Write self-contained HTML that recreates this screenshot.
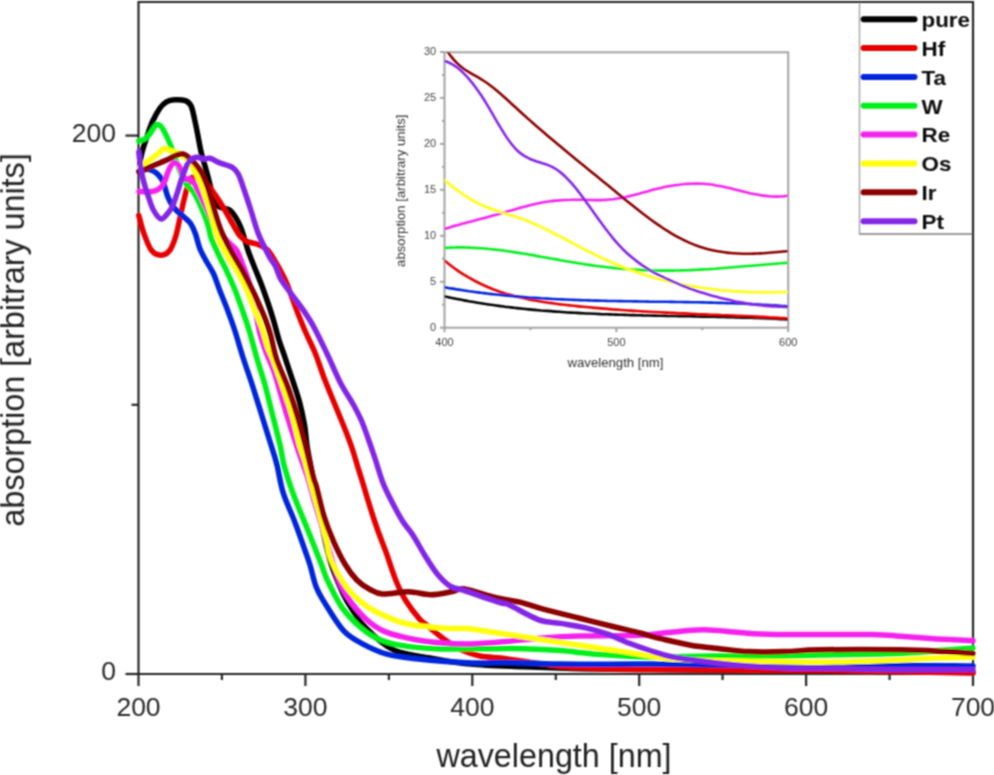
<!DOCTYPE html>
<html><head><meta charset="utf-8"><style>
html,body{margin:0;padding:0;background:#fff;}
body{width:994px;height:775px;overflow:hidden;position:relative;}
svg{position:absolute;left:0;top:0;}
text{font-family:"Liberation Sans",sans-serif;}
</style></head><body>
<svg width="994" height="775" viewBox="0 0 994 775">
<defs><filter id="soft" x="-5%" y="-5%" width="110%" height="110%"><feConvolveMatrix order="3" kernelMatrix="1 2 1 2 4 2 1 2 1" edgeMode="duplicate" preserveAlpha="false"/></filter></defs>
<rect width="994" height="775" fill="#fff"/>
<g filter="url(#soft)">
<!-- legend box -->
<line x1="859.5" y1="3" x2="859.5" y2="234" stroke="#a8a8a8" stroke-width="1.5"/>
<line x1="859" y1="234" x2="973" y2="234" stroke="#9c9c9c" stroke-width="2"/>
<g font-family="Liberation Sans" font-weight="bold" font-size="21" fill="#0a0a0a">
<line x1="863.5" y1="19.2" x2="914.5" y2="19.2" stroke="#060606" stroke-width="6" stroke-linecap="round"/>
<text transform="translate(921.5,27.0) scale(1.066,1)">pure</text>
<line x1="863.5" y1="48.0" x2="914.5" y2="48.0" stroke="#e60500" stroke-width="6" stroke-linecap="round"/>
<text transform="translate(921.5,55.8) scale(1.066,1)">Hf</text>
<line x1="863.5" y1="76.9" x2="914.5" y2="76.9" stroke="#0028dc" stroke-width="6" stroke-linecap="round"/>
<text transform="translate(921.5,84.7) scale(1.066,1)">Ta</text>
<line x1="863.5" y1="105.8" x2="914.5" y2="105.8" stroke="#00f01e" stroke-width="6" stroke-linecap="round"/>
<text transform="translate(921.5,113.6) scale(1.066,1)">W</text>
<line x1="863.5" y1="134.6" x2="914.5" y2="134.6" stroke="#f523ee" stroke-width="6" stroke-linecap="round"/>
<text transform="translate(921.5,142.4) scale(1.066,1)">Re</text>
<line x1="863.5" y1="163.4" x2="914.5" y2="163.4" stroke="#ffff0a" stroke-width="6" stroke-linecap="round"/>
<text transform="translate(921.5,171.2) scale(1.066,1)">Os</text>
<line x1="863.5" y1="192.3" x2="914.5" y2="192.3" stroke="#8c0000" stroke-width="6" stroke-linecap="round"/>
<text transform="translate(921.5,200.1) scale(1.066,1)">Ir</text>
<line x1="863.5" y1="221.2" x2="914.5" y2="221.2" stroke="#8428e6" stroke-width="6" stroke-linecap="round"/>
<text transform="translate(921.5,229.0) scale(1.066,1)">Pt</text>
</g>
<!-- inset frame -->
<g stroke="#a4a4a4" stroke-width="2" fill="none">
<rect x="444.5" y="52.3" width="343.7" height="275.4"/>
<line x1="444.5" y1="327.7" x2="444.5" y2="332.2"/>
<line x1="530.4" y1="327.7" x2="530.4" y2="330.2"/>
<line x1="616.4" y1="327.7" x2="616.4" y2="332.2"/>
<line x1="702.3" y1="327.7" x2="702.3" y2="330.2"/>
<line x1="788.2" y1="327.7" x2="788.2" y2="332.2"/>
<line x1="444.5" y1="327.7" x2="440.0" y2="327.7"/>
<line x1="444.5" y1="304.7" x2="442.0" y2="304.7"/>
<line x1="444.5" y1="281.8" x2="440.0" y2="281.8"/>
<line x1="444.5" y1="258.8" x2="442.0" y2="258.8"/>
<line x1="444.5" y1="235.8" x2="440.0" y2="235.8"/>
<line x1="444.5" y1="212.8" x2="442.0" y2="212.8"/>
<line x1="444.5" y1="189.8" x2="440.0" y2="189.8"/>
<line x1="444.5" y1="166.9" x2="442.0" y2="166.9"/>
<line x1="444.5" y1="143.9" x2="440.0" y2="143.9"/>
<line x1="444.5" y1="120.9" x2="442.0" y2="120.9"/>
<line x1="444.5" y1="97.9" x2="440.0" y2="97.9"/>
<line x1="444.5" y1="75.0" x2="442.0" y2="75.0"/>
<line x1="444.5" y1="52.0" x2="440.0" y2="52.0"/>
</g>
<g font-family="Liberation Sans" font-size="11" fill="#444" text-anchor="end">
<text x="436.2" y="330.9">0</text>
<text x="436.2" y="284.9">5</text>
<text x="436.2" y="239.0">10</text>
<text x="436.2" y="193.0">15</text>
<text x="436.2" y="147.1">20</text>
<text x="436.2" y="101.1">25</text>
<text x="436.2" y="55.2">30</text>
</g>
<g font-family="Liberation Sans" font-size="11" fill="#444" text-anchor="middle">
<text x="444.5" y="346">400</text>
<text x="616.4" y="346">500</text>
<text x="788.2" y="346">600</text>
<text x="615.5" y="367" font-size="13.2" fill="#333">wavelength [nm]</text>
<text transform="translate(404.5,190.7) rotate(-90)" font-size="13.2" fill="#333">absorption [arbitrary units]</text>
</g>
<defs><clipPath id="ic"><rect x="444.5" y="52.3" width="343.7" height="275.4"/></clipPath></defs>
<g fill="none" stroke-width="2.6" stroke-linecap="round" stroke-linejoin="round" clip-path="url(#ic)">
<path d="M445.0,296.4 C446.0,296.6 449.0,297.2 451.0,297.7 C453.0,298.1 455.0,298.5 457.0,298.9 C459.0,299.3 461.0,299.7 463.0,300.1 C465.0,300.4 467.0,300.8 469.0,301.2 C471.0,301.5 473.0,301.9 475.0,302.2 C477.0,302.6 479.0,302.9 481.0,303.2 C483.0,303.5 485.0,303.9 487.0,304.2 C489.0,304.5 491.0,304.8 493.0,305.0 C495.0,305.3 497.0,305.6 499.0,305.9 C501.0,306.2 503.0,306.4 505.0,306.7 C507.0,306.9 509.0,307.2 511.0,307.4 C513.0,307.6 515.0,307.9 517.0,308.1 C519.0,308.3 521.0,308.5 523.0,308.7 C525.0,309.0 527.0,309.2 529.0,309.4 C531.0,309.6 533.0,309.7 535.0,309.9 C537.0,310.1 539.0,310.3 541.0,310.5 C543.0,310.6 545.0,310.8 547.0,310.9 C549.0,311.1 551.0,311.3 553.0,311.4 C555.0,311.6 557.0,311.7 559.0,311.8 C561.0,312.0 563.0,312.1 565.0,312.2 C567.0,312.4 569.0,312.5 571.0,312.6 C573.0,312.7 575.0,312.8 577.0,312.9 C579.0,313.0 581.0,313.2 583.0,313.3 C585.0,313.4 587.0,313.5 589.0,313.5 C591.0,313.6 593.0,313.7 595.0,313.8 C597.0,313.9 599.0,314.0 601.0,314.1 C603.0,314.1 605.0,314.2 607.0,314.3 C609.0,314.4 611.0,314.4 613.0,314.5 C615.0,314.6 617.0,314.6 619.0,314.7 C621.0,314.8 623.0,314.8 625.0,314.9 C627.0,315.0 629.0,315.0 631.0,315.1 C633.0,315.1 635.0,315.2 637.0,315.2 C639.0,315.3 641.0,315.3 643.0,315.4 C645.0,315.4 647.0,315.5 649.0,315.5 C651.0,315.6 653.0,315.6 655.0,315.6 C657.0,315.7 659.0,315.7 661.0,315.8 C663.0,315.8 665.0,315.8 667.0,315.9 C669.0,315.9 671.0,316.0 673.0,316.0 C675.0,316.0 677.0,316.1 679.0,316.1 C681.0,316.2 683.0,316.2 685.0,316.2 C687.0,316.3 689.0,316.3 691.0,316.3 C693.0,316.4 695.0,316.4 697.0,316.5 C699.0,316.5 701.0,316.5 703.0,316.6 C705.0,316.6 707.0,316.7 709.0,316.7 C711.0,316.7 713.0,316.8 715.0,316.8 C717.0,316.9 719.0,316.9 721.0,317.0 C723.0,317.0 725.0,317.1 727.0,317.1 C729.0,317.2 731.0,317.2 733.0,317.3 C735.0,317.3 737.0,317.4 739.0,317.4 C741.0,317.5 743.0,317.6 745.0,317.6 C747.0,317.7 749.0,317.7 751.0,317.8 C753.0,317.9 755.0,318.0 757.0,318.0 C759.0,318.1 761.0,318.2 763.0,318.3 C765.0,318.3 767.0,318.4 769.0,318.5 C771.0,318.6 773.0,318.7 775.0,318.8 C777.0,318.9 779.0,319.0 781.0,319.1 C783.0,319.2 786.0,319.3 787.0,319.4" stroke="#060606"/>
<path d="M445.0,261.1 C446.0,261.9 449.0,264.3 451.0,265.8 C453.0,267.3 455.0,268.8 457.0,270.1 C459.0,271.5 461.0,272.8 463.0,274.1 C465.0,275.3 467.0,276.5 469.0,277.7 C471.0,278.8 473.0,279.9 475.0,281.0 C477.0,282.0 479.0,283.0 481.0,284.0 C483.0,284.9 485.0,285.8 487.0,286.7 C489.0,287.6 491.0,288.4 493.0,289.2 C495.0,289.9 497.0,290.7 499.0,291.4 C501.0,292.1 503.0,292.7 505.0,293.4 C507.0,294.0 509.0,294.6 511.0,295.1 C513.0,295.7 515.0,296.2 517.0,296.7 C519.0,297.2 521.0,297.7 523.0,298.1 C525.0,298.6 527.0,299.0 529.0,299.4 C531.0,299.8 533.0,300.2 535.0,300.5 C537.0,300.9 539.0,301.2 541.0,301.5 C543.0,301.9 545.0,302.2 547.0,302.5 C549.0,302.8 551.0,303.0 553.0,303.3 C555.0,303.6 557.0,303.8 559.0,304.1 C561.0,304.3 563.0,304.6 565.0,304.8 C567.0,305.0 569.0,305.3 571.0,305.5 C573.0,305.7 575.0,305.9 577.0,306.1 C579.0,306.4 581.0,306.6 583.0,306.8 C585.0,307.0 587.0,307.2 589.0,307.3 C591.0,307.5 593.0,307.7 595.0,307.9 C597.0,308.1 599.0,308.3 601.0,308.4 C603.0,308.6 605.0,308.8 607.0,308.9 C609.0,309.1 611.0,309.2 613.0,309.4 C615.0,309.5 617.0,309.7 619.0,309.8 C621.0,310.0 623.0,310.1 625.0,310.2 C627.0,310.4 629.0,310.5 631.0,310.6 C633.0,310.8 635.0,310.9 637.0,311.0 C639.0,311.1 641.0,311.2 643.0,311.4 C645.0,311.5 647.0,311.6 649.0,311.7 C651.0,311.8 653.0,311.9 655.0,312.0 C657.0,312.1 659.0,312.2 661.0,312.3 C663.0,312.4 665.0,312.5 667.0,312.6 C669.0,312.7 671.0,312.8 673.0,312.9 C675.0,313.0 677.0,313.1 679.0,313.2 C681.0,313.3 683.0,313.4 685.0,313.4 C687.0,313.5 689.0,313.6 691.0,313.7 C693.0,313.8 695.0,313.9 697.0,314.0 C699.0,314.0 701.0,314.1 703.0,314.2 C705.0,314.3 707.0,314.4 709.0,314.5 C711.0,314.5 713.0,314.6 715.0,314.7 C717.0,314.8 719.0,314.9 721.0,315.0 C723.0,315.0 725.0,315.1 727.0,315.2 C729.0,315.3 731.0,315.4 733.0,315.5 C735.0,315.6 737.0,315.7 739.0,315.7 C741.0,315.8 743.0,315.9 745.0,316.0 C747.0,316.1 749.0,316.2 751.0,316.3 C753.0,316.4 755.0,316.5 757.0,316.6 C759.0,316.7 761.0,316.8 763.0,316.9 C765.0,317.0 767.0,317.1 769.0,317.3 C771.0,317.4 773.0,317.5 775.0,317.6 C777.0,317.7 779.0,317.8 781.0,318.0 C783.0,318.1 786.0,318.3 787.0,318.3" stroke="#e60500"/>
<path d="M445.0,287.3 C446.0,287.5 449.0,288.0 451.0,288.4 C453.0,288.7 455.0,289.0 457.0,289.4 C459.0,289.7 461.0,290.0 463.0,290.3 C465.0,290.6 467.0,290.9 469.0,291.2 C471.0,291.4 473.0,291.7 475.0,292.0 C477.0,292.3 479.0,292.5 481.0,292.8 C483.0,293.0 485.0,293.3 487.0,293.5 C489.0,293.7 491.0,294.0 493.0,294.2 C495.0,294.4 497.0,294.6 499.0,294.8 C501.0,295.0 503.0,295.2 505.0,295.4 C507.0,295.6 509.0,295.8 511.0,296.0 C513.0,296.2 515.0,296.4 517.0,296.5 C519.0,296.7 521.0,296.9 523.0,297.0 C525.0,297.2 527.0,297.3 529.0,297.5 C531.0,297.6 533.0,297.8 535.0,297.9 C537.0,298.0 539.0,298.1 541.0,298.3 C543.0,298.4 545.0,298.5 547.0,298.6 C549.0,298.7 551.0,298.9 553.0,299.0 C555.0,299.1 557.0,299.2 559.0,299.3 C561.0,299.4 563.0,299.4 565.0,299.5 C567.0,299.6 569.0,299.7 571.0,299.8 C573.0,299.9 575.0,299.9 577.0,300.0 C579.0,300.1 581.0,300.1 583.0,300.2 C585.0,300.3 587.0,300.3 589.0,300.4 C591.0,300.5 593.0,300.5 595.0,300.6 C597.0,300.6 599.0,300.7 601.0,300.7 C603.0,300.8 605.0,300.8 607.0,300.9 C609.0,300.9 611.0,301.0 613.0,301.0 C615.0,301.0 617.0,301.1 619.0,301.1 C621.0,301.1 623.0,301.2 625.0,301.2 C627.0,301.2 629.0,301.3 631.0,301.3 C633.0,301.3 635.0,301.4 637.0,301.4 C639.0,301.4 641.0,301.5 643.0,301.5 C645.0,301.5 647.0,301.5 649.0,301.6 C651.0,301.6 653.0,301.6 655.0,301.7 C657.0,301.7 659.0,301.7 661.0,301.7 C663.0,301.8 665.0,301.8 667.0,301.8 C669.0,301.8 671.0,301.9 673.0,301.9 C675.0,301.9 677.0,302.0 679.0,302.0 C681.0,302.0 683.0,302.1 685.0,302.1 C687.0,302.1 689.0,302.2 691.0,302.2 C693.0,302.2 695.0,302.3 697.0,302.3 C699.0,302.4 701.0,302.4 703.0,302.4 C705.0,302.5 707.0,302.5 709.0,302.6 C711.0,302.6 713.0,302.7 715.0,302.7 C717.0,302.8 719.0,302.9 721.0,302.9 C723.0,303.0 725.0,303.0 727.0,303.1 C729.0,303.2 731.0,303.2 733.0,303.3 C735.0,303.4 737.0,303.5 739.0,303.5 C741.0,303.6 743.0,303.7 745.0,303.8 C747.0,303.9 749.0,304.0 751.0,304.1 C753.0,304.2 755.0,304.3 757.0,304.4 C759.0,304.5 761.0,304.6 763.0,304.7 C765.0,304.8 767.0,304.9 769.0,305.0 C771.0,305.2 773.0,305.3 775.0,305.4 C777.0,305.6 779.0,305.7 781.0,305.9 C783.0,306.0 786.0,306.2 787.0,306.3" stroke="#0028dc"/>
<path d="M445.0,247.9 C446.0,247.9 449.0,247.7 451.0,247.6 C453.0,247.5 455.0,247.5 457.0,247.4 C459.0,247.4 461.0,247.4 463.0,247.4 C465.0,247.5 467.0,247.5 469.0,247.6 C471.0,247.7 473.0,247.7 475.0,247.9 C477.0,248.0 479.0,248.1 481.0,248.2 C483.0,248.4 485.0,248.6 487.0,248.7 C489.0,248.9 491.0,249.1 493.0,249.4 C495.0,249.6 497.0,249.8 499.0,250.0 C501.0,250.3 503.0,250.6 505.0,250.8 C507.0,251.1 509.0,251.4 511.0,251.7 C513.0,252.0 515.0,252.3 517.0,252.6 C519.0,252.9 521.0,253.2 523.0,253.5 C525.0,253.9 527.0,254.2 529.0,254.6 C531.0,254.9 533.0,255.2 535.0,255.6 C537.0,255.9 539.0,256.3 541.0,256.7 C543.0,257.0 545.0,257.4 547.0,257.7 C549.0,258.1 551.0,258.5 553.0,258.8 C555.0,259.2 557.0,259.5 559.0,259.9 C561.0,260.3 563.0,260.6 565.0,261.0 C567.0,261.3 569.0,261.7 571.0,262.0 C573.0,262.3 575.0,262.7 577.0,263.0 C579.0,263.3 581.0,263.7 583.0,264.0 C585.0,264.3 587.0,264.6 589.0,264.9 C591.0,265.2 593.0,265.5 595.0,265.7 C597.0,266.0 599.0,266.3 601.0,266.5 C603.0,266.8 605.0,267.0 607.0,267.2 C609.0,267.5 611.0,267.7 613.0,267.9 C615.0,268.1 617.0,268.3 619.0,268.5 C621.0,268.6 623.0,268.8 625.0,269.0 C627.0,269.1 629.0,269.3 631.0,269.4 C633.0,269.6 635.0,269.7 637.0,269.8 C639.0,269.9 641.0,270.0 643.0,270.1 C645.0,270.2 647.0,270.3 649.0,270.3 C651.0,270.4 653.0,270.5 655.0,270.5 C657.0,270.6 659.0,270.6 661.0,270.6 C663.0,270.6 665.0,270.6 667.0,270.6 C669.0,270.6 671.0,270.6 673.0,270.6 C675.0,270.6 677.0,270.5 679.0,270.5 C681.0,270.4 683.0,270.4 685.0,270.3 C687.0,270.2 689.0,270.2 691.0,270.1 C693.0,270.0 695.0,269.9 697.0,269.8 C699.0,269.7 701.0,269.6 703.0,269.4 C705.0,269.3 707.0,269.2 709.0,269.1 C711.0,268.9 713.0,268.8 715.0,268.7 C717.0,268.5 719.0,268.4 721.0,268.2 C723.0,268.1 725.0,267.9 727.0,267.7 C729.0,267.6 731.0,267.4 733.0,267.2 C735.0,267.1 737.0,266.9 739.0,266.7 C741.0,266.6 743.0,266.4 745.0,266.2 C747.0,266.1 749.0,265.9 751.0,265.7 C753.0,265.5 755.0,265.4 757.0,265.2 C759.0,265.0 761.0,264.9 763.0,264.7 C765.0,264.5 767.0,264.4 769.0,264.2 C771.0,264.0 773.0,263.9 775.0,263.7 C777.0,263.6 779.0,263.4 781.0,263.3 C783.0,263.1 786.0,262.9 787.0,262.9" stroke="#00f01e"/>
<path d="M445.0,228.8 C446.0,228.5 449.0,227.6 451.0,227.0 C453.0,226.4 455.0,225.8 457.0,225.2 C459.0,224.7 461.0,224.1 463.0,223.6 C465.0,223.0 467.0,222.5 469.0,222.0 C471.0,221.5 473.0,220.9 475.0,220.4 C477.0,219.9 479.0,219.4 481.0,218.8 C483.0,218.3 485.0,217.8 487.0,217.2 C489.0,216.7 491.0,216.2 493.0,215.6 C495.0,215.1 497.0,214.5 499.0,213.9 C501.0,213.4 503.0,212.8 505.0,212.2 C507.0,211.6 509.0,211.0 511.0,210.4 C513.0,209.8 515.0,209.2 517.0,208.7 C519.0,208.1 521.0,207.5 523.0,207.0 C525.0,206.4 527.0,205.9 529.0,205.4 C531.0,204.9 533.0,204.4 535.0,203.9 C537.0,203.5 539.0,203.1 541.0,202.7 C543.0,202.3 545.0,202.0 547.0,201.7 C549.0,201.4 551.0,201.2 553.0,200.9 C555.0,200.7 557.0,200.5 559.0,200.4 C561.0,200.2 563.0,200.1 565.0,200.0 C567.0,199.9 569.0,199.8 571.0,199.8 C573.0,199.7 575.0,199.7 577.0,199.7 C579.0,199.7 581.0,199.8 583.0,199.8 C585.0,199.8 587.0,199.9 589.0,200.0 C591.0,200.0 593.0,200.1 595.0,200.1 C597.0,200.1 599.0,200.1 601.0,200.1 C603.0,200.0 605.0,200.0 607.0,199.8 C609.0,199.7 611.0,199.5 613.0,199.3 C615.0,199.0 617.0,198.7 619.0,198.3 C621.0,198.0 623.0,197.6 625.0,197.2 C627.0,196.7 629.0,196.2 631.0,195.7 C633.0,195.2 635.0,194.7 637.0,194.2 C639.0,193.7 641.0,193.1 643.0,192.6 C645.0,192.0 647.0,191.4 649.0,190.9 C651.0,190.4 653.0,189.8 655.0,189.3 C657.0,188.8 659.0,188.3 661.0,187.9 C663.0,187.4 665.0,187.0 667.0,186.6 C669.0,186.2 671.0,185.8 673.0,185.5 C675.0,185.2 677.0,184.9 679.0,184.7 C681.0,184.4 683.0,184.2 685.0,184.0 C687.0,183.9 689.0,183.8 691.0,183.7 C693.0,183.6 695.0,183.6 697.0,183.6 C699.0,183.6 701.0,183.7 703.0,183.8 C705.0,183.9 707.0,184.1 709.0,184.3 C711.0,184.6 713.0,184.8 715.0,185.2 C717.0,185.5 719.0,185.9 721.0,186.3 C723.0,186.7 725.0,187.1 727.0,187.6 C729.0,188.0 731.0,188.5 733.0,189.0 C735.0,189.5 737.0,190.0 739.0,190.5 C741.0,191.0 743.0,191.5 745.0,192.0 C747.0,192.5 749.0,192.9 751.0,193.4 C753.0,193.8 755.0,194.2 757.0,194.6 C759.0,195.0 761.0,195.3 763.0,195.6 C765.0,195.9 767.0,196.1 769.0,196.3 C771.0,196.5 773.0,196.6 775.0,196.6 C777.0,196.6 779.0,196.6 781.0,196.5 C783.0,196.4 786.0,196.0 787.0,195.8" stroke="#f523ee"/>
<path d="M445.0,180.5 C446.0,181.4 449.0,183.8 451.0,185.4 C453.0,187.0 455.0,188.5 457.0,190.0 C459.0,191.5 461.0,192.9 463.0,194.3 C465.0,195.7 467.0,197.0 469.0,198.2 C471.0,199.4 473.0,200.6 475.0,201.7 C477.0,202.8 479.0,203.8 481.0,204.7 C483.0,205.7 485.0,206.5 487.0,207.3 C489.0,208.1 491.0,208.9 493.0,209.6 C495.0,210.3 497.0,210.9 499.0,211.6 C501.0,212.2 503.0,212.8 505.0,213.4 C507.0,214.0 509.0,214.6 511.0,215.3 C513.0,215.9 515.0,216.5 517.0,217.2 C519.0,217.9 521.0,218.6 523.0,219.3 C525.0,220.0 527.0,220.8 529.0,221.6 C531.0,222.5 533.0,223.3 535.0,224.2 C537.0,225.1 539.0,226.0 541.0,226.9 C543.0,227.9 545.0,228.8 547.0,229.8 C549.0,230.8 551.0,231.8 553.0,232.8 C555.0,233.8 557.0,234.9 559.0,235.9 C561.0,236.9 563.0,238.0 565.0,239.0 C567.0,240.1 569.0,241.2 571.0,242.2 C573.0,243.3 575.0,244.4 577.0,245.4 C579.0,246.5 581.0,247.5 583.0,248.6 C585.0,249.6 587.0,250.7 589.0,251.7 C591.0,252.7 593.0,253.7 595.0,254.7 C597.0,255.7 599.0,256.7 601.0,257.6 C603.0,258.5 605.0,259.5 607.0,260.4 C609.0,261.3 611.0,262.1 613.0,263.0 C615.0,263.9 617.0,264.7 619.0,265.5 C621.0,266.3 623.0,267.1 625.0,267.9 C627.0,268.6 629.0,269.4 631.0,270.1 C633.0,270.8 635.0,271.5 637.0,272.2 C639.0,272.9 641.0,273.6 643.0,274.2 C645.0,274.9 647.0,275.5 649.0,276.1 C651.0,276.7 653.0,277.3 655.0,277.9 C657.0,278.4 659.0,279.0 661.0,279.5 C663.0,280.0 665.0,280.5 667.0,281.0 C669.0,281.5 671.0,282.0 673.0,282.5 C675.0,282.9 677.0,283.3 679.0,283.8 C681.0,284.2 683.0,284.6 685.0,285.0 C687.0,285.4 689.0,285.7 691.0,286.1 C693.0,286.4 695.0,286.8 697.0,287.1 C699.0,287.4 701.0,287.7 703.0,288.0 C705.0,288.3 707.0,288.6 709.0,288.8 C711.0,289.1 713.0,289.3 715.0,289.5 C717.0,289.8 719.0,290.0 721.0,290.2 C723.0,290.4 725.0,290.6 727.0,290.7 C729.0,290.9 731.0,291.0 733.0,291.2 C735.0,291.3 737.0,291.5 739.0,291.6 C741.0,291.7 743.0,291.8 745.0,291.9 C747.0,292.0 749.0,292.0 751.0,292.1 C753.0,292.2 755.0,292.2 757.0,292.3 C759.0,292.3 761.0,292.3 763.0,292.3 C765.0,292.4 767.0,292.4 769.0,292.3 C771.0,292.3 773.0,292.3 775.0,292.3 C777.0,292.3 779.0,292.2 781.0,292.2 C783.0,292.1 786.0,292.0 787.0,292.0" stroke="#ffff0a"/>
<path d="M445.0,47.5 C446.0,49.0 449.0,53.8 451.0,56.4 C453.0,59.0 455.0,61.1 457.0,63.1 C459.0,65.1 461.0,66.7 463.0,68.2 C465.0,69.7 467.0,71.0 469.0,72.2 C471.0,73.4 473.0,74.5 475.0,75.6 C477.0,76.8 479.0,77.8 481.0,79.1 C483.0,80.3 485.0,81.6 487.0,83.0 C489.0,84.4 491.0,86.0 493.0,87.5 C495.0,89.1 497.0,90.8 499.0,92.5 C501.0,94.2 503.0,96.0 505.0,97.8 C507.0,99.6 509.0,101.4 511.0,103.3 C513.0,105.1 515.0,107.0 517.0,108.8 C519.0,110.6 521.0,112.4 523.0,114.2 C525.0,116.0 527.0,117.8 529.0,119.6 C531.0,121.4 533.0,123.1 535.0,124.9 C537.0,126.6 539.0,128.4 541.0,130.1 C543.0,131.8 545.0,133.5 547.0,135.2 C549.0,136.9 551.0,138.6 553.0,140.3 C555.0,142.0 557.0,143.6 559.0,145.3 C561.0,147.0 563.0,148.6 565.0,150.3 C567.0,152.0 569.0,153.6 571.0,155.2 C573.0,156.9 575.0,158.5 577.0,160.2 C579.0,161.8 581.0,163.4 583.0,165.1 C585.0,166.7 587.0,168.3 589.0,169.9 C591.0,171.6 593.0,173.2 595.0,174.8 C597.0,176.5 599.0,178.1 601.0,179.7 C603.0,181.4 605.0,183.0 607.0,184.6 C609.0,186.3 611.0,187.9 613.0,189.5 C615.0,191.2 617.0,192.8 619.0,194.5 C621.0,196.1 623.0,197.8 625.0,199.4 C627.0,201.0 629.0,202.6 631.0,204.3 C633.0,205.9 635.0,207.5 637.0,209.0 C639.0,210.6 641.0,212.2 643.0,213.7 C645.0,215.2 647.0,216.7 649.0,218.2 C651.0,219.7 653.0,221.2 655.0,222.6 C657.0,224.0 659.0,225.4 661.0,226.7 C663.0,228.1 665.0,229.4 667.0,230.7 C669.0,231.9 671.0,233.2 673.0,234.3 C675.0,235.5 677.0,236.6 679.0,237.7 C681.0,238.8 683.0,239.8 685.0,240.7 C687.0,241.7 689.0,242.6 691.0,243.4 C693.0,244.3 695.0,245.1 697.0,245.8 C699.0,246.5 701.0,247.2 703.0,247.8 C705.0,248.4 707.0,248.9 709.0,249.4 C711.0,249.9 713.0,250.4 715.0,250.8 C717.0,251.2 719.0,251.5 721.0,251.8 C723.0,252.1 725.0,252.4 727.0,252.6 C729.0,252.9 731.0,253.0 733.0,253.2 C735.0,253.3 737.0,253.5 739.0,253.5 C741.0,253.6 743.0,253.7 745.0,253.7 C747.0,253.7 749.0,253.7 751.0,253.7 C753.0,253.6 755.0,253.6 757.0,253.5 C759.0,253.4 761.0,253.3 763.0,253.2 C765.0,253.1 767.0,253.0 769.0,252.8 C771.0,252.7 773.0,252.5 775.0,252.3 C777.0,252.2 779.0,252.0 781.0,251.8 C783.0,251.6 786.0,251.3 787.0,251.2" stroke="#8c0000"/>
<path d="M445.5,61.3 C446.5,61.7 449.5,62.8 451.5,63.9 C453.5,65.0 455.5,66.3 457.5,67.8 C459.5,69.4 461.5,71.1 463.5,73.1 C465.5,75.0 467.5,77.2 469.5,79.6 C471.5,81.9 473.5,84.5 475.5,87.2 C477.5,89.9 479.5,92.8 481.5,95.8 C483.5,98.9 485.5,102.1 487.5,105.4 C489.5,108.7 491.5,112.2 493.5,115.6 C495.5,119.1 497.5,122.6 499.5,125.9 C501.5,129.2 503.5,132.5 505.5,135.6 C507.5,138.6 509.5,141.5 511.5,144.0 C513.5,146.5 515.5,148.8 517.5,150.7 C519.5,152.6 521.5,154.1 523.5,155.4 C525.5,156.7 527.5,157.7 529.5,158.7 C531.5,159.6 533.5,160.3 535.5,161.0 C537.5,161.7 539.5,162.2 541.5,162.9 C543.5,163.5 545.5,164.1 547.5,164.9 C549.5,165.7 551.5,166.5 553.5,167.6 C555.5,168.7 557.5,170.0 559.5,171.6 C561.5,173.1 563.5,174.9 565.5,176.8 C567.5,178.8 569.5,180.9 571.5,183.2 C573.5,185.4 575.5,187.9 577.5,190.4 C579.5,192.9 581.5,195.6 583.5,198.3 C585.5,201.0 587.5,203.8 589.5,206.5 C591.5,209.3 593.5,212.2 595.5,215.0 C597.5,217.8 599.5,220.6 601.5,223.3 C603.5,226.1 605.5,228.8 607.5,231.3 C609.5,233.9 611.5,236.4 613.5,238.8 C615.5,241.2 617.5,243.5 619.5,245.6 C621.5,247.8 623.5,249.8 625.5,251.7 C627.5,253.6 629.5,255.4 631.5,257.1 C633.5,258.8 635.5,260.4 637.5,261.9 C639.5,263.4 641.5,264.8 643.5,266.2 C645.5,267.5 647.5,268.8 649.5,270.0 C651.5,271.2 653.5,272.3 655.5,273.4 C657.5,274.4 659.5,275.4 661.5,276.4 C663.5,277.4 665.5,278.3 667.5,279.3 C669.5,280.2 671.5,281.1 673.5,281.9 C675.5,282.8 677.5,283.6 679.5,284.4 C681.5,285.3 683.5,286.0 685.5,286.8 C687.5,287.6 689.5,288.3 691.5,289.1 C693.5,289.8 695.5,290.5 697.5,291.2 C699.5,291.8 701.5,292.5 703.5,293.1 C705.5,293.8 707.5,294.4 709.5,294.9 C711.5,295.5 713.5,296.1 715.5,296.6 C717.5,297.2 719.5,297.7 721.5,298.2 C723.5,298.7 725.5,299.2 727.5,299.6 C729.5,300.1 731.5,300.5 733.5,300.9 C735.5,301.4 737.5,301.8 739.5,302.1 C741.5,302.5 743.5,302.8 745.5,303.2 C747.5,303.5 749.5,303.8 751.5,304.1 C753.5,304.4 755.5,304.6 757.5,304.9 C759.5,305.1 761.5,305.4 763.5,305.6 C765.5,305.8 767.5,305.9 769.5,306.1 C771.5,306.3 773.5,306.4 775.5,306.5 C777.5,306.7 779.6,306.8 781.5,306.8 C783.4,306.9 786.1,307.0 787.0,307.0" stroke="#8428e6"/>
</g>
<!-- main frame -->
<g stroke="#262626" stroke-width="2.2" fill="none">
<path d="M138.5,674.0 L138.5,2 L973,2 L973,674.0 Z"/>
<line x1="138.5" y1="674.0" x2="138.5" y2="686.0"/>
<line x1="221.9" y1="674.0" x2="221.9" y2="680.0"/>
<line x1="305.4" y1="674.0" x2="305.4" y2="686.0"/>
<line x1="388.9" y1="674.0" x2="388.9" y2="680.0"/>
<line x1="472.3" y1="674.0" x2="472.3" y2="686.0"/>
<line x1="555.8" y1="674.0" x2="555.8" y2="680.0"/>
<line x1="639.2" y1="674.0" x2="639.2" y2="686.0"/>
<line x1="722.6" y1="674.0" x2="722.6" y2="680.0"/>
<line x1="806.1" y1="674.0" x2="806.1" y2="686.0"/>
<line x1="889.6" y1="674.0" x2="889.6" y2="680.0"/>
<line x1="973.0" y1="674.0" x2="973.0" y2="686.0"/>
<line x1="138.5" y1="674.0" x2="125.5" y2="674.0"/>
<line x1="138.5" y1="404.8" x2="131.5" y2="404.8"/>
<line x1="138.5" y1="135.6" x2="125.5" y2="135.6"/>
</g>
<!-- main curves -->
<g fill="none" stroke-width="5.5" stroke-linecap="round" stroke-linejoin="round">
<path d="M139.5,167.0 C139.9,164.7 140.6,157.8 141.8,153.0 C143.0,148.2 144.7,143.2 146.5,138.0 C148.3,132.8 150.2,126.5 152.5,121.5 C154.8,116.5 157.7,111.3 160.0,108.0 C162.3,104.7 164.1,103.2 166.5,101.8 C168.9,100.4 171.5,100.0 174.6,99.8 C177.7,99.6 182.6,99.7 185.3,100.7 C188.1,101.7 189.6,103.0 191.1,106.0 C192.6,109.0 193.4,114.2 194.5,119.0 C195.6,123.8 196.7,129.3 197.8,135.0 C198.9,140.7 199.9,147.1 201.3,153.0 C202.7,158.9 204.9,165.3 206.3,170.5 C207.7,175.7 208.6,179.2 209.8,184.0 C211.1,188.8 212.2,195.2 213.8,199.0 C215.4,202.8 216.9,205.2 219.5,207.0 C222.1,208.8 226.6,208.0 229.3,209.8 C232.1,211.6 234.1,215.0 236.0,218.0 C237.9,221.0 239.5,224.3 241.0,228.0 C242.5,231.7 243.6,236.2 244.8,240.0 C246.0,243.8 246.7,246.7 248.2,251.0 C249.7,255.3 251.8,260.3 254.0,266.0 C256.2,271.7 259.4,279.0 261.7,285.2 C264.0,291.4 265.9,296.9 268.0,303.0 C270.1,309.1 272.2,315.8 274.0,322.0 C275.8,328.2 277.3,334.5 279.0,340.0 C280.7,345.5 281.7,347.8 284.2,355.2 C286.7,362.6 291.3,376.4 293.9,384.2 C296.4,392.0 297.7,395.2 299.5,402.0 C301.3,408.8 303.2,417.7 304.5,425.0 C305.8,432.3 306.1,439.8 307.0,446.0 C307.9,452.2 308.9,456.3 310.0,462.0 C311.1,467.7 312.2,473.7 313.5,480.0 C314.8,486.3 316.4,491.7 318.0,500.0 C319.6,508.3 321.0,520.0 323.0,530.0 C325.0,540.0 327.5,551.3 330.0,560.0 C332.5,568.7 335.2,575.2 338.0,582.0 C340.8,588.8 342.5,593.5 347.0,601.0 C351.5,608.5 357.2,618.8 365.0,627.0 C372.8,635.2 383.2,644.8 394.0,650.0 C404.8,655.2 417.3,655.7 430.0,658.0 C442.7,660.3 454.3,662.5 470.0,664.0 C485.7,665.5 505.8,666.0 524.0,666.8 C542.2,667.6 558.0,668.2 579.0,668.7 C600.0,669.2 609.8,669.2 650.0,669.6 C690.2,670.0 766.2,670.5 820.0,671.0 C873.8,671.5 947.5,672.2 973.0,672.5" stroke="#060606"/>
<path d="M138.8,215.5 C139.6,218.4 141.6,227.1 143.7,232.9 C145.8,238.7 148.5,246.6 151.4,250.3 C154.3,254.0 158.0,255.2 161.1,255.2 C164.2,255.2 167.4,253.4 169.8,250.3 C172.2,247.2 174.0,241.9 175.6,236.8 C177.2,231.8 178.3,225.4 179.5,220.0 C180.7,214.6 181.7,209.7 182.9,204.5 C184.1,199.3 185.5,193.2 186.8,189.0 C188.1,184.8 189.4,181.0 190.6,179.0 C191.8,177.0 192.8,177.0 194.0,177.0 C195.2,177.0 196.4,178.1 198.0,179.0 C199.6,179.9 201.7,181.3 203.5,182.5 C205.3,183.7 206.6,184.2 208.7,186.4 C210.8,188.7 213.6,192.6 216.0,196.0 C218.4,199.4 220.8,203.2 223.0,207.0 C225.2,210.8 227.4,214.8 229.5,218.5 C231.6,222.2 233.8,226.1 235.5,229.0 C237.2,231.9 238.1,233.9 240.0,236.0 C241.9,238.1 244.1,240.1 247.0,241.5 C249.9,242.9 254.3,243.0 257.4,244.2 C260.5,245.3 263.5,246.9 265.6,248.4 C267.7,249.9 267.8,249.8 270.0,253.0 C272.2,256.2 275.9,262.4 278.7,267.4 C281.4,272.4 284.2,277.7 286.5,282.9 C288.8,288.1 290.4,293.2 292.3,298.4 C294.2,303.6 295.9,308.3 298.1,313.9 C300.3,319.5 302.6,325.4 305.5,332.0 C308.4,338.6 312.0,345.4 315.2,353.2 C318.4,361.0 321.1,370.2 324.5,379.0 C327.9,387.8 331.8,397.0 335.5,406.0 C339.2,415.0 343.8,426.0 346.5,433.0 C349.2,440.0 350.2,442.5 352.0,448.0 C353.8,453.5 355.8,460.3 357.5,466.0 C359.2,471.7 360.9,476.8 362.5,482.0 C364.1,487.2 365.4,491.6 367.0,497.0 C368.6,502.4 370.5,508.5 372.3,514.2 C374.1,519.9 375.8,524.8 378.0,531.0 C380.2,537.2 382.7,543.0 385.8,551.5 C388.9,560.0 393.1,573.8 396.5,582.0 C399.9,590.2 402.1,594.8 406.0,601.0 C409.9,607.2 416.1,615.1 419.6,619.1 C423.1,623.1 422.6,621.8 426.8,625.2 C431.0,628.6 438.9,635.5 444.9,639.7 C450.9,643.9 457.1,647.8 463.0,650.5 C468.9,653.2 472.8,654.6 480.0,656.0 C487.2,657.4 495.8,657.4 506.2,658.7 C516.6,660.1 530.3,662.6 542.4,664.1 C554.5,665.6 560.8,666.8 578.7,667.7 C596.6,668.6 609.8,669.1 650.0,669.6 C690.2,670.1 766.2,670.0 820.0,670.6 C873.8,671.2 947.5,672.6 973.0,673.0" stroke="#e60500"/>
<path d="M139.0,171.0 C140.0,170.7 142.6,169.1 144.8,169.0 C147.0,168.9 149.9,169.7 152.0,170.5 C154.1,171.3 155.7,172.2 157.5,174.0 C159.3,175.8 161.2,177.7 162.9,181.4 C164.6,185.1 166.0,192.1 167.5,196.0 C169.0,199.9 170.4,202.5 172.0,205.0 C173.6,207.5 175.0,209.0 177.0,211.0 C179.0,213.0 181.7,214.9 184.0,217.0 C186.3,219.1 188.7,220.7 190.6,223.5 C192.5,226.3 194.0,229.8 195.5,234.0 C197.0,238.2 198.1,244.1 199.8,248.4 C201.5,252.7 203.3,255.8 205.6,260.0 C207.9,264.2 211.1,268.7 213.4,273.5 C215.7,278.3 216.9,283.2 219.2,289.0 C221.4,294.8 224.4,301.7 226.9,308.4 C229.4,315.1 231.5,320.6 234.3,329.0 C237.1,337.4 240.3,349.2 243.5,359.0 C246.7,368.8 250.0,378.0 253.2,388.0 C256.4,398.0 259.7,408.7 262.9,419.0 C266.1,429.3 270.2,442.3 272.6,450.0 C275.0,457.7 275.2,457.9 277.0,465.0 C278.8,472.1 280.2,483.4 283.2,492.9 C286.2,502.4 291.2,512.5 294.8,521.9 C298.4,531.2 302.0,541.8 304.5,549.0 C307.0,556.2 308.0,558.6 310.0,565.0 C312.0,571.4 313.6,580.5 316.3,587.2 C319.0,593.9 321.5,597.8 326.0,605.0 C330.5,612.2 337.6,624.2 343.5,630.6 C349.4,637.0 354.4,639.4 361.6,643.3 C368.8,647.2 377.8,651.6 386.9,654.2 C395.9,656.8 406.2,657.5 415.9,658.7 C425.6,659.9 434.2,660.7 444.9,661.4 C455.6,662.1 469.8,662.8 480.0,663.0 C490.2,663.2 492.8,662.3 506.2,662.5 C519.6,662.7 536.5,663.8 560.5,664.1 C584.5,664.4 621.7,663.9 650.0,664.1 C678.3,664.3 702.2,664.9 730.5,665.2 C758.8,665.5 791.7,666.1 820.0,666.1 C848.3,666.1 875.0,665.2 900.5,665.2 C926.0,665.2 960.9,666.0 973.0,666.1" stroke="#0028dc"/>
<path d="M138.8,141.0 C139.8,140.7 142.9,140.2 144.8,139.0 C146.7,137.8 148.4,135.8 150.2,133.5 C152.0,131.2 154.0,126.7 155.7,125.4 C157.4,124.1 158.7,124.5 160.2,125.6 C161.7,126.7 162.9,129.0 164.5,132.0 C166.1,135.0 168.2,139.5 170.0,143.8 C171.8,148.1 173.4,153.6 175.0,158.0 C176.6,162.4 177.8,165.8 179.5,170.0 C181.2,174.2 183.2,179.4 185.5,183.0 C187.8,186.6 190.9,188.3 193.2,191.6 C195.5,194.9 197.4,198.9 199.3,203.0 C201.2,207.1 203.2,211.9 204.8,216.0 C206.4,220.1 207.6,223.9 208.7,227.7 C209.8,231.5 209.7,234.0 211.4,238.7 C213.2,243.4 216.6,250.6 219.2,256.1 C221.8,261.6 224.3,266.1 226.9,271.6 C229.5,277.1 232.0,282.6 234.6,289.0 C237.2,295.4 240.0,303.5 242.4,310.3 C244.8,317.1 246.6,321.9 249.0,330.0 C251.4,338.1 254.5,350.0 257.1,359.0 C259.7,368.0 262.2,374.8 264.8,384.2 C267.4,393.6 270.0,404.9 272.6,415.2 C275.2,425.5 278.4,437.8 280.3,446.1 C282.2,454.4 281.9,457.2 284.0,465.0 C286.1,472.8 289.5,483.5 292.9,493.0 C296.3,502.5 300.6,512.2 304.5,521.9 C308.4,531.6 313.2,543.6 316.1,551.0 C319.0,558.4 320.1,561.0 322.0,566.0 C323.9,571.0 324.4,574.1 327.7,581.0 C331.0,587.9 336.6,599.7 341.7,607.1 C346.8,614.5 352.3,620.1 358.0,625.2 C363.7,630.3 369.1,634.6 376.0,637.9 C382.9,641.2 389.6,643.3 399.6,645.1 C409.6,646.9 422.4,648.1 435.8,648.7 C449.2,649.3 465.2,648.7 480.0,648.7 C494.8,648.7 510.9,648.4 524.3,648.7 C537.7,649.0 548.4,649.6 560.5,650.5 C572.6,651.4 581.9,653.1 596.8,654.2 C611.7,655.3 630.7,656.7 650.0,657.0 C669.3,657.3 692.9,656.2 712.4,656.1 C731.9,656.0 748.9,656.3 766.8,656.1 C784.7,655.9 797.7,655.5 820.0,655.0 C842.3,654.5 881.0,654.1 900.5,653.4 C920.0,652.7 924.7,651.6 936.8,650.7 C948.9,649.8 967.0,648.5 973.0,648.0" stroke="#00f01e"/>
<path d="M139.0,191.5 C140.2,191.6 143.8,192.0 146.0,192.0 C148.2,192.0 150.2,191.8 152.0,191.5 C153.8,191.2 155.5,190.8 157.0,190.0 C158.5,189.2 159.7,188.4 161.0,187.0 C162.3,185.6 163.5,184.2 164.7,181.5 C165.9,178.8 167.1,173.8 168.3,171.0 C169.5,168.2 170.7,165.9 171.9,164.5 C173.1,163.1 174.3,162.5 175.5,162.8 C176.7,163.1 178.1,164.5 179.2,166.2 C180.3,167.9 180.9,170.8 182.0,173.0 C183.1,175.2 184.2,178.6 185.5,179.5 C186.8,180.4 188.0,178.0 189.5,178.7 C191.0,179.4 193.0,181.7 194.5,183.8 C196.0,186.0 196.7,188.1 198.4,191.6 C200.2,195.1 202.7,200.3 205.0,205.0 C207.3,209.7 209.5,215.3 212.0,220.0 C214.5,224.7 217.2,229.2 220.0,233.0 C222.8,236.8 226.0,239.7 228.8,242.6 C231.6,245.5 234.3,246.8 236.6,250.3 C238.9,253.9 240.2,258.3 242.4,263.9 C244.6,269.5 247.4,276.6 249.5,284.0 C251.6,291.4 253.3,300.1 255.0,308.0 C256.7,315.9 257.7,324.2 259.5,331.5 C261.3,338.8 263.7,345.6 266.0,352.0 C268.3,358.4 271.3,364.0 273.5,370.0 C275.7,376.0 276.6,379.8 279.0,388.0 C281.4,396.2 284.9,408.7 288.1,419.0 C291.3,429.3 294.8,440.3 298.0,450.0 C301.2,459.7 304.8,468.7 307.5,477.0 C310.2,485.3 311.8,492.3 314.0,500.0 C316.2,507.7 318.8,515.5 321.0,523.0 C323.2,530.5 325.3,537.8 327.5,545.0 C329.7,552.2 331.8,559.2 334.0,566.0 C336.2,572.8 338.0,579.8 341.0,586.0 C344.0,592.2 347.4,597.6 352.0,603.5 C356.6,609.4 363.0,616.8 368.8,621.6 C374.6,626.4 379.0,629.4 386.9,632.4 C394.8,635.4 406.2,637.9 415.9,639.7 C425.6,641.5 435.9,642.6 444.9,643.3 C453.9,644.0 459.8,644.3 470.0,644.0 C480.2,643.7 494.1,642.5 506.2,641.5 C518.3,640.5 530.3,638.8 542.4,637.9 C554.5,637.0 562.4,636.5 578.7,636.1 C595.0,635.7 625.2,635.9 640.0,635.3 C654.8,634.7 656.6,633.5 667.2,632.6 C677.8,631.7 691.3,629.8 703.4,629.8 C715.5,629.8 727.5,631.8 739.6,632.6 C751.7,633.4 753.8,634.1 775.8,634.4 C797.8,634.7 850.8,634.1 871.6,634.4 C892.4,634.7 889.6,635.5 900.5,636.2 C911.4,637.0 924.7,638.1 936.8,638.9 C948.9,639.6 967.0,640.4 973.0,640.7" stroke="#f523ee"/>
<path d="M139.5,167.0 C140.2,166.5 141.4,165.4 143.5,164.0 C145.6,162.6 149.4,160.4 152.0,158.5 C154.6,156.6 157.3,154.2 159.3,152.5 C161.3,150.8 162.2,148.8 164.0,148.5 C165.8,148.2 167.9,149.8 170.0,150.5 C172.1,151.2 174.2,151.5 176.5,152.5 C178.8,153.5 182.1,155.1 184.0,156.5 C185.9,157.9 186.5,159.0 188.0,161.0 C189.5,163.0 191.5,165.5 193.2,168.4 C194.9,171.3 196.7,174.9 198.4,178.7 C200.1,182.5 201.6,186.5 203.3,191.3 C205.0,196.1 207.0,202.6 208.6,207.5 C210.2,212.4 211.5,216.8 212.8,221.0 C214.1,225.2 215.3,229.5 216.4,232.8 C217.5,236.1 217.4,236.8 219.5,241.0 C221.6,245.2 225.6,252.6 228.8,258.0 C232.0,263.4 235.6,268.3 238.5,273.5 C241.4,278.7 243.7,283.2 246.3,289.0 C248.9,294.8 251.4,301.9 254.0,308.4 C256.6,314.8 259.4,321.2 261.7,327.7 C263.9,334.1 265.7,341.9 267.5,347.1 C269.3,352.3 270.1,352.5 272.6,359.0 C275.1,365.5 279.1,376.7 282.3,386.1 C285.5,395.5 289.0,405.2 291.9,415.2 C294.8,425.2 297.6,438.6 299.7,446.1 C301.8,453.6 302.4,452.9 304.5,460.0 C306.6,467.1 309.7,479.6 312.3,489.0 C314.9,498.4 317.6,507.4 320.0,516.1 C322.4,524.8 324.7,534.0 326.5,541.3 C328.3,548.6 327.6,552.2 331.0,560.0 C334.4,567.8 341.3,580.5 347.0,588.0 C352.7,595.5 358.7,600.3 365.0,605.0 C371.3,609.7 377.7,612.8 385.0,616.0 C392.3,619.2 399.3,622.3 408.7,624.3 C418.1,626.3 432.2,627.2 441.3,627.9 C450.4,628.6 458.2,628.4 463.0,628.5 C467.8,628.6 462.8,627.8 470.0,628.8 C477.2,629.8 494.1,632.4 506.2,634.2 C518.3,636.0 530.3,637.9 542.4,639.7 C554.5,641.5 566.6,643.3 578.7,645.1 C590.8,646.9 604.7,649.0 614.9,650.5 C625.1,652.0 631.3,652.9 640.0,654.3 C648.7,655.7 655.1,657.8 667.2,658.8 C679.3,659.8 695.8,660.1 712.4,660.6 C729.0,661.1 748.9,661.2 766.8,661.5 C784.7,661.8 800.7,662.3 820.0,662.2 C839.3,662.1 862.9,661.4 882.4,660.7 C901.9,660.0 921.7,658.6 936.8,658.0 C951.9,657.4 967.0,657.2 973.0,657.0" stroke="#ffff0a"/>
<path d="M139.0,172.0 C139.7,171.8 140.8,171.5 143.0,170.5 C145.2,169.5 149.0,167.3 152.0,166.0 C155.0,164.7 158.0,163.7 161.0,162.4 C164.0,161.2 167.4,159.7 170.0,158.5 C172.6,157.3 174.2,155.9 176.4,155.2 C178.6,154.4 181.1,153.7 183.0,154.0 C184.9,154.3 186.1,155.3 188.0,156.8 C189.9,158.3 192.4,160.6 194.5,163.0 C196.6,165.4 198.7,168.0 200.5,171.0 C202.3,174.0 203.9,177.0 205.5,181.0 C207.1,185.0 208.6,190.3 210.0,195.0 C211.4,199.7 212.7,204.5 214.0,209.0 C215.3,213.5 216.6,217.8 218.0,222.0 C219.4,226.2 220.3,229.2 222.5,234.0 C224.7,238.8 227.6,244.7 231.0,251.0 C234.4,257.3 239.2,264.7 243.0,271.6 C246.8,278.5 250.9,287.1 253.5,292.3 C256.1,297.5 256.5,298.4 258.5,303.0 C260.5,307.6 263.6,314.7 265.6,320.0 C267.6,325.3 268.7,328.5 270.5,335.0 C272.3,341.5 273.6,350.2 276.5,359.0 C279.4,367.8 284.6,378.3 288.1,388.0 C291.6,397.7 294.8,407.4 297.7,417.1 C300.6,426.8 302.9,436.1 305.5,446.1 C308.1,456.1 311.4,470.2 313.2,477.0 C315.0,483.8 314.7,480.5 316.5,487.0 C318.3,493.5 321.1,507.1 323.9,516.1 C326.7,525.1 329.9,533.2 333.5,541.3 C337.1,549.4 341.3,558.0 345.2,564.5 C349.1,571.0 352.7,575.8 356.8,580.0 C360.9,584.2 365.7,587.2 370.0,589.5 C374.3,591.8 376.1,593.6 382.5,594.0 C388.9,594.4 400.5,591.7 408.5,591.8 C416.5,591.9 423.5,594.7 430.6,594.7 C437.7,594.7 445.6,592.8 451.0,591.8 C456.4,590.8 458.0,588.4 463.0,588.7 C468.0,589.0 475.1,591.9 481.0,593.5 C486.9,595.1 491.9,596.8 498.4,598.2 C504.9,599.7 512.7,600.4 520.0,602.2 C527.3,604.0 532.6,606.3 542.4,608.9 C552.2,611.5 566.6,615.0 578.7,618.0 C590.8,621.0 604.7,624.5 614.9,627.0 C625.1,629.5 632.2,631.0 640.0,633.0 C647.8,635.0 653.2,636.9 661.7,638.9 C670.2,640.9 680.7,643.5 690.7,645.2 C700.7,646.9 711.8,647.8 721.5,648.9 C731.2,650.0 738.1,651.1 748.7,651.6 C759.3,652.1 773.0,651.9 784.9,651.6 C796.8,651.3 800.7,650.1 820.0,649.8 C839.3,649.5 879.5,649.5 900.5,649.8 C921.5,650.1 933.7,651.0 945.8,651.6 C957.9,652.2 968.5,653.1 973.0,653.4" stroke="#8c0000"/>
<path d="M138.8,152.0 C139.1,154.7 140.0,163.2 140.8,168.0 C141.6,172.8 142.3,176.4 143.5,181.0 C144.7,185.6 146.3,190.7 148.0,195.5 C149.7,200.3 151.2,206.1 153.4,210.0 C155.6,213.9 158.5,218.7 161.1,219.0 C163.7,219.3 166.8,214.3 168.8,212.0 C170.8,209.7 171.6,208.2 173.0,205.0 C174.4,201.8 175.6,197.8 177.2,193.0 C178.8,188.2 180.7,181.2 182.6,176.0 C184.5,170.8 186.5,165.1 188.7,162.0 C190.9,158.9 193.4,157.7 195.9,157.2 C198.4,156.7 201.2,158.8 203.5,159.0 C205.8,159.2 207.4,157.7 210.0,158.3 C212.6,158.9 215.4,161.1 219.1,162.6 C222.8,164.1 229.1,165.4 232.3,167.3 C235.5,169.2 236.4,170.4 238.4,174.3 C240.4,178.2 242.5,185.2 244.5,191.0 C246.5,196.8 248.6,203.2 250.5,209.0 C252.4,214.8 254.3,221.6 255.7,226.0 C257.1,230.4 257.7,232.2 259.0,235.4 C260.3,238.6 261.7,241.2 263.5,245.0 C265.3,248.8 268.0,254.5 270.0,258.0 C272.0,261.5 273.5,262.3 275.3,265.8 C277.1,269.3 278.1,274.5 280.6,279.0 C283.1,283.5 286.8,287.8 290.3,292.6 C293.9,297.5 298.1,302.6 301.9,308.1 C305.7,313.6 309.0,318.3 313.2,325.8 C317.4,333.3 322.2,343.7 326.8,353.2 C331.4,362.7 336.1,374.5 340.5,383.0 C344.9,391.5 349.5,397.7 353.0,404.0 C356.5,410.3 358.9,414.8 361.6,421.0 C364.3,427.2 366.7,434.5 369.0,441.0 C371.3,447.5 373.2,453.0 375.5,460.0 C377.8,467.0 380.4,476.3 383.0,483.0 C385.6,489.7 387.8,493.7 391.0,500.0 C394.2,506.3 398.8,515.1 402.5,521.0 C406.2,526.9 409.5,529.8 413.1,535.4 C416.8,541.0 420.4,548.3 424.4,554.7 C428.4,561.1 433.0,568.8 437.3,574.0 C441.6,579.2 445.8,583.4 450.1,586.1 C454.4,588.8 457.6,588.3 463.0,590.1 C468.4,591.9 475.9,594.6 482.3,596.8 C488.7,598.9 497.0,601.6 501.6,603.0 C506.2,604.4 503.6,602.5 509.8,605.3 C516.0,608.1 530.3,616.8 538.8,619.8 C547.2,622.8 552.6,622.0 560.5,623.4 C568.4,624.8 578.0,626.1 585.9,627.9 C593.8,629.7 600.4,631.6 607.6,634.2 C614.9,636.8 622.3,640.6 629.4,643.3 C636.5,646.0 642.8,648.2 650.0,650.5 C657.2,652.8 662.2,655.0 672.6,657.0 C683.0,659.0 699.7,660.9 712.4,662.4 C725.1,663.9 736.6,665.2 748.7,666.1 C760.8,667.0 773.0,667.5 784.9,667.9 C796.8,668.3 800.7,668.0 820.0,668.3 C839.3,668.6 875.0,669.5 900.5,669.7 C926.0,669.9 960.9,669.7 973.0,669.7" stroke="#8428e6"/>
</g>
<g font-family="Liberation Sans" font-size="26.5" fill="#2a2a2a" text-anchor="middle">
<text x="138.5" y="716">200</text>
<text x="305.4" y="716">300</text>
<text x="472.3" y="716">400</text>
<text x="639.2" y="716">500</text>
<text x="806.1" y="716">600</text>
<text x="973.0" y="716">700</text>
</g>
<g font-family="Liberation Sans" font-size="26.5" fill="#2a2a2a" text-anchor="end">
<text x="116" y="680">0</text>
<text x="116" y="142">200</text>
</g>
<g font-family="Liberation Sans" font-size="32.3" fill="#222">
<text x="554" y="766.5" text-anchor="middle">wavelength [nm]</text>
<text transform="translate(24,339.9) rotate(-90)" text-anchor="middle">absorption [arbitrary units]</text>
</g>
</g>
</svg>
</body></html>
